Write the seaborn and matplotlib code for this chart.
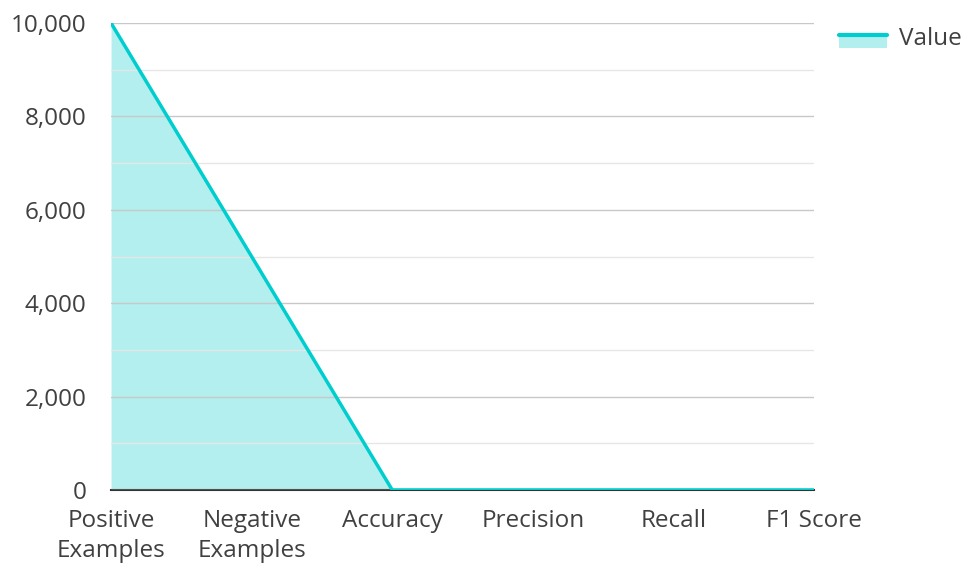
import matplotlib.pyplot as plt
import matplotlib.patches as mpatches
import matplotlib.lines as mlines
from matplotlib.legend_handler import HandlerBase
import seaborn as sns
import pandas as pd
from matplotlib.ticker import MultipleLocator, FuncFormatter

categories = ['Positive\nExamples', 'Negative\nExamples', 'Accuracy', 'Precision', 'Recall', 'F1 Score']
values = [10000, 5000, 0.85, 0.8, 0.9, 0.85]

line_color = '#00CDCD'
fill_color = '#B2EFEE'
text_color = '#404040'


class AreaHandler(HandlerBase):
    # fill patch with the line on its top edge, like the reference legend
    def create_artists(self, legend, orig_handle, xdescent, ydescent, width, height, fontsize, trans):
        y0 = -ydescent - 3
        rect = mpatches.Rectangle((-xdescent, y0), width, height * 0.85,
                                  facecolor=fill_color, edgecolor='none', transform=trans)
        top = y0 + height * 0.85
        line = mlines.Line2D([-xdescent, -xdescent + width], [top, top],
                             color=line_color, linewidth=3, transform=trans)
        return [rect, line]


sns.set_style('white')
plt.rcParams['font.family'] = ['Open Sans', 'DejaVu Sans']

df = pd.DataFrame({'Metric': categories, 'Value': values})
df['pos'] = range(len(df))

fig = plt.figure(figsize=(9.63, 5.64), dpi=100)
ax = fig.add_axes([0.1153, 0.1312, 0.7300, 0.8280])

ax.fill_between(df['pos'], df['Value'], 0, color=fill_color, linewidth=0, zorder=1)
sns.lineplot(data=df, x='pos', y='Value', ax=ax, color=line_color, linewidth=2.5, zorder=3)

ax.set_xlim(0, 5)
ax.set_ylim(0, 10000)
ax.set_xticks(df['pos'])
ax.set_xticklabels(categories, linespacing=1.3)
ax.yaxis.set_major_locator(MultipleLocator(2000))
ax.yaxis.set_minor_locator(MultipleLocator(1000))
ax.yaxis.set_major_formatter(FuncFormatter(lambda v, p: f'{int(v):,}'))

ax.grid(axis='y', which='major', color='#c8c8c8', linewidth=1, zorder=2)
ax.grid(axis='y', which='minor', color='#e6e6e6', linewidth=1, zorder=2)
ax.set_axisbelow(False)
for s in ['top', 'right', 'left']:
    ax.spines[s].set_visible(False)
ax.spines['bottom'].set_color('#333333')
ax.spines['bottom'].set_linewidth(1.5)
ax.spines['bottom'].set_zorder(2.5)

ax.tick_params(axis='y', which='major', length=4.5, color='#c8c8c8', labelsize=17.5,
               labelcolor=text_color, pad=13)
ax.tick_params(axis='y', which='minor', length=0)
ax.tick_params(axis='x', length=0, labelsize=17.5, labelcolor=text_color, pad=14)
ax.set_xlabel('')
ax.set_ylabel('')

leg = ax.legend([object()], ['Value'], handler_map={object: AreaHandler()},
                loc='upper left', bbox_to_anchor=(1.035, 0.992), frameon=False,
                fontsize=17.5, handlelength=2.0, handleheight=0.6, handletextpad=0.5,
                borderpad=0, borderaxespad=0)
for t in leg.get_texts():
    t.set_color(text_color)

fig.savefig('out.png', dpi=100)
